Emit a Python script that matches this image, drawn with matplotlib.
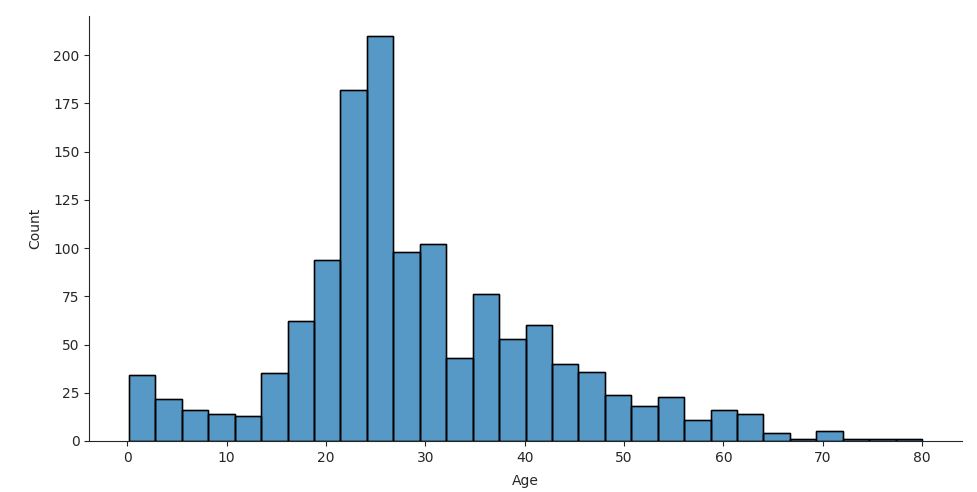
import numpy as np
import matplotlib
matplotlib.use("Agg")
import matplotlib.pyplot as plt

# Data (Age, 30 bins from 0.17 to 80)
age_min = 0.17
age_max = 80.0
counts = [34, 22, 16, 14, 13, 35, 62, 94, 182, 210,
          98, 102, 43, 76, 53, 60, 40, 36, 24, 18,
          23, 11, 16, 14, 4, 1, 5, 1, 1, 1]
x_label = "Age"
y_label = "Count"

edges = np.linspace(age_min, age_max, len(counts) + 1)
centers = (edges[:-1] + edges[1:]) / 2

plt.rcParams['font.family'] = ['DejaVu Sans']
plt.rcParams['font.size'] = 10
text_color = '#262626'

fig = plt.figure(figsize=(9.77, 4.92), dpi=100)
ax = fig.add_axes([89.3 / 977, 1 - 441 / 492, (961.7 - 89.3) / 977, (441 - 15.5) / 492])

ax.hist(centers, bins=edges, weights=counts, color='#1f77b4', alpha=0.75,
        edgecolor='black', linewidth=1.0)
# redraw edges at full opacity
ax.hist(centers, bins=edges, weights=counts, facecolor='none',
        edgecolor='black', linewidth=1.0)

ax.set_xlabel(x_label, color=text_color, labelpad=6.5)
ax.set_ylabel(y_label, color=text_color, labelpad=8)
ax.set_xticks([0, 10, 20, 30, 40, 50, 60, 70, 80])
ax.set_yticks([0, 25, 50, 75, 100, 125, 150, 175, 200])
ax.tick_params(colors=text_color, labelcolor=text_color, length=3.5)
for s in ['top', 'right']:
    ax.spines[s].set_visible(False)
for s in ['left', 'bottom']:
    ax.spines[s].set_color(text_color)

fig.savefig("out.png", dpi=100)
